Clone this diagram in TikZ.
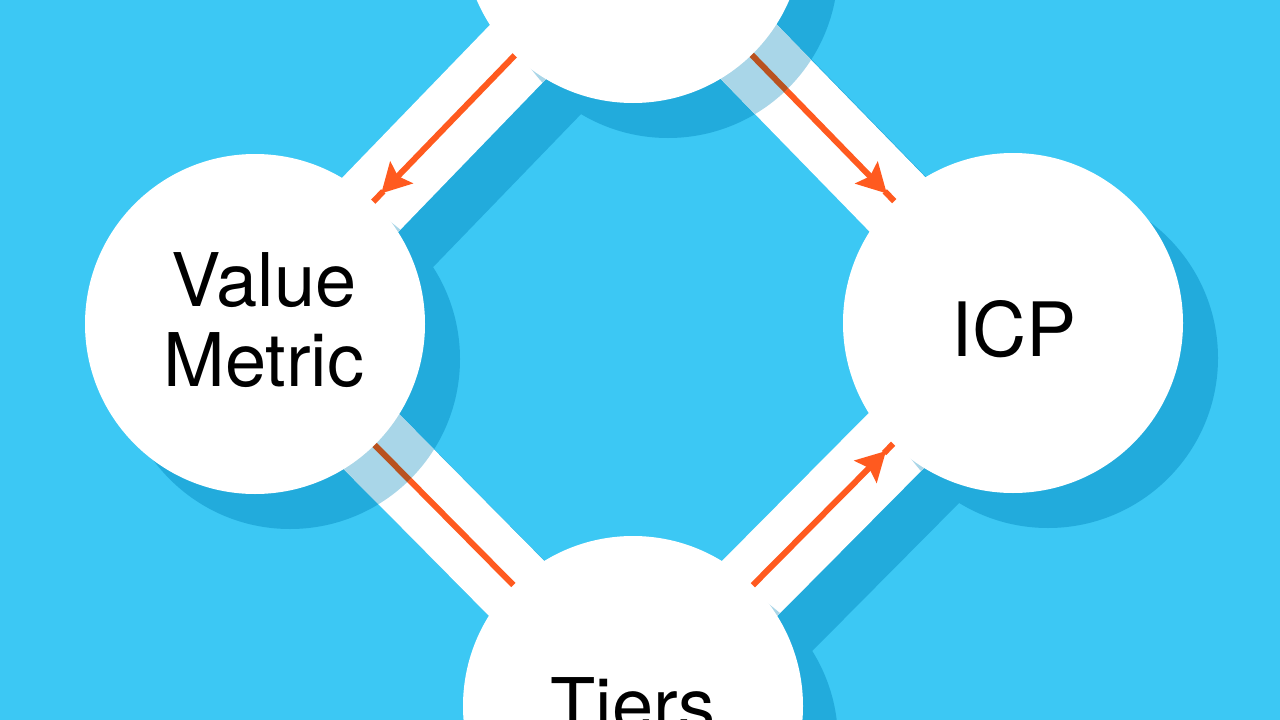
\documentclass[tikz,border=0pt]{standalone}
\usepackage{fontspec}
\setmainfont{TeX Gyre Heros}
\usetikzlibrary{arrows.meta,calc}
\definecolor{bgblue}{HTML}{3CC8F4}
\definecolor{shadowblue}{HTML}{22ABDC}
\definecolor{paleblue}{HTML}{A9D6E8}
\definecolor{arroworange}{HTML}{FF5A1F}
\definecolor{darkorange}{HTML}{B9521F}
\pgfdeclarelayer{shadowlayer}
\pgfdeclarelayer{bandlayer}
\pgfdeclarelayer{tintlayer}
\pgfsetlayers{shadowlayer,bandlayer,tintlayer,main}
\tikzset{
  disc/.style={circle, fill=white, minimum size=340pt, inner sep=0pt},
  lbl/.style={font=\fontsize{74}{80}\selectfont, text=black, inner sep=0pt, align=center},
  bandline/.style={line width=78pt, line cap=butt, draw=white},
  bandshadow/.style={line width=78pt, line cap=butt, draw=shadowblue},
  bandtint/.style={line width=78pt, line cap=butt, draw=paleblue},
  oline/.style={line width=6pt, draw=arroworange, line cap=butt},
  olinedark/.style={line width=6pt, draw=darkorange, line cap=butt},
  ohead/.style={-{Stealth[length=29pt,width=31pt,inset=5pt]}},
  sh/.style={shift={(35,35)}}
}
\begin{document}
\begin{tikzpicture}[x=1pt,y=-1pt]
\useasboundingbox (0,0) rectangle (1280,720);
\clip (0,0) rectangle (1280,720);

% circles
\node[disc] (top) at (633,-67) {};
\node[disc] (left) at (255,324) {};
\node[disc] (right) at (1013,323) {};
\node[disc] (bottom) at (633,706) {};

% labels
\node[lbl] (tvm) at (264,320) {Value\\Metric};
\node[lbl, font=\fontsize{75}{80}\selectfont] (ticp) at (1014,329) {ICP};
\node[lbl, anchor=base] (ttiers) at (633,731) {Tiers};

% arrow coordinates
\coordinate (a1s) at ($(top.center)!0.31!(left.center)$);
\coordinate (a1e) at ($(top.center)!0.69!(left.center)$);
\coordinate (a2s) at ($(top.center)!0.31!(right.center)$);
\coordinate (a2e) at ($(top.center)!0.69!(right.center)$);
\coordinate (a3s) at ($(left.center)!0.31!(bottom.center)$);
\coordinate (a3e) at ($(left.center)!0.69!(bottom.center)$);
\coordinate (a4s) at ($(bottom.center)!0.31!(right.center)$);
\coordinate (a4e) at ($(bottom.center)!0.69!(right.center)$);

\begin{pgfonlayer}{shadowlayer}
  \fill[bgblue] (0,0) rectangle (1280,720);
  \draw[bandshadow] ([sh]top.center) -- ([sh]left.center);
  \draw[bandshadow] ([sh]top.center) -- ([sh]right.center);
  \draw[bandshadow] ([sh]left.center) -- ([sh]bottom.center);
  \draw[bandshadow] ([sh]bottom.center) -- ([sh]right.center);
  \fill[shadowblue] ([sh]top.center) circle (170);
  \fill[shadowblue] ([sh]left.center) circle (170);
  \fill[shadowblue] ([sh]right.center) circle (170);
  \fill[shadowblue] ([sh]bottom.center) circle (170);
\end{pgfonlayer}

\begin{pgfonlayer}{bandlayer}
  \draw[bandline] (top.center) -- (left.center);
  \draw[bandline] (top.center) -- (right.center);
  \draw[bandline] (left.center) -- (bottom.center);
  \draw[bandline] (bottom.center) -- (right.center);
  % top -> left
  \draw[oline, ohead] (a1s) -- ($(a1e)!13pt!(a1s)$);
  \draw[oline] ($(a1e)!16pt!(a1s)$) -- (a1e);
  % top -> right
  \draw[oline, ohead] (a2s) -- ($(a2e)!12pt!(a2s)$);
  \draw[oline] ($(a2e)!15pt!(a2s)$) -- (a2e);
  % left -> bottom (no head)
  \draw[oline] (a3s) -- (a3e);
  % bottom -> right
  \draw[oline, ohead] (a4s) -- ($(a4e)!13pt!(a4s)$);
  \draw[oline] ($(a4e)!16pt!(a4s)$) -- (a4e);
\end{pgfonlayer}

\begin{pgfonlayer}{tintlayer}
  \begin{scope}
    \clip ([sh]top.center) circle (170) ([sh]left.center) circle (170)
          ([sh]right.center) circle (170) ([sh]bottom.center) circle (170);
    \draw[bandtint] (top.center) -- (left.center);
    \draw[bandtint] (top.center) -- (right.center);
    \draw[bandtint] (left.center) -- (bottom.center);
    \draw[bandtint] (bottom.center) -- (right.center);
    \draw[olinedark] (a1s) -- ($(a1e)!30pt!(a1s)$);
    \draw[olinedark] (a2s) -- ($(a2e)!30pt!(a2s)$);
    \draw[olinedark] (a3s) -- (a3e);
    \draw[olinedark] (a4s) -- ($(a4e)!30pt!(a4s)$);
  \end{scope}
\end{pgfonlayer}
\end{tikzpicture}
\end{document}
